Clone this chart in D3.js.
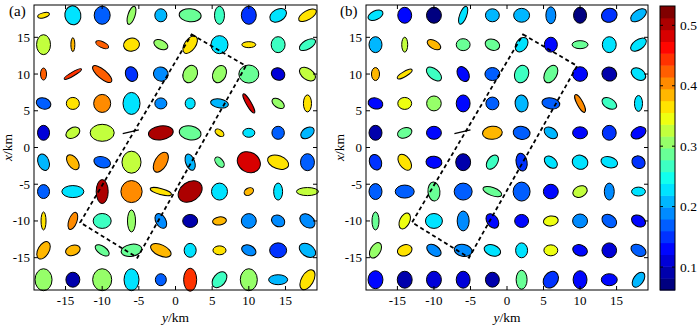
<!DOCTYPE html>
<html><head><meta charset="utf-8">
<script src="https://cdn.jsdelivr.net/npm/d3@7"></script>
<style>body{margin:0;background:#fff} svg text{font-family:"Liberation Serif","Times New Roman",serif;fill:#000}</style>
</head><body><svg id="c" width="700" height="325" font-family="Liberation Serif, Times New Roman, serif"></svg>
<script>
// grid (km): rows = x (north), columns = y (east)
const rowsX = [18,14,10,6,2,-2,-6,-10,-14,-18];
const colsY = [-18,-14,-10,-6,-2,2,6,10,14,18];
const tickVals = [-15,-10,-5,0,5,10,15];
const cbTicks = [0.1,0.2,0.3,0.4,0.5];
const cbDomain = [0.062, 0.532];
const nLevels = 24;
const faultOutline = [[2.2,15.4],[9.6,11.1],[-5.2,-15.0],[-13.0,-10.2]]; // [y, x] km
const epicLine = [[-7.2,1.9],[-5.0,2.4]];

// panel (a)
const valA = [
[0.36,0.235,0.16,0.30,0.215,0.28,0.27,0.155,0.235,0.36],
[0.33,0.38,0.42,0.36,0.30,0.36,0.235,0.36,0.265,0.265],
[0.42,0.45,0.43,0.155,0.185,0.30,0.30,0.28,0.12,0.33],
[0.175,0.36,0.40,0.235,0.19,0.235,0.215,0.475,0.30,0.36],
[0.12,0.33,0.33,null,0.51,0.28,0.36,0.235,0.16,0.215],
[0.215,0.38,0.16,0.33,0.41,0.215,0.28,0.475,0.36,0.16],
[0.175,0.235,0.505,0.40,0.36,0.51,0.22,0.38,0.235,0.33],
[0.36,0.40,0.265,0.30,0.18,0.095,0.38,0.18,0.195,0.18],
[0.38,0.38,0.28,0.28,0.38,0.235,0.36,0.18,0.155,0.215],
[0.30,0.10,0.30,0.235,0.16,0.44,0.265,0.30,0.215,0.36]];
const majA = [
[0.82,1.30,1.23,1.30,0.89,1.50,1.23,1.23,1.23,1.36],
[1.36,0.95,0.95,1.09,1.02,1.36,1.23,0.95,1.09,1.23],
[0.82,1.36,1.64,1.02,1.02,1.23,1.23,1.36,0.95,1.23],
[1.02,0.89,1.23,1.50,0.82,0.75,1.23,1.50,0.95,1.16],
[1.02,1.02,1.64,0,1.70,1.50,0.68,0.82,0.89,1.02],
[1.16,1.16,1.16,1.50,1.50,1.16,0.82,1.64,1.50,1.16],
[0.95,1.50,1.64,1.50,1.50,1.77,1.16,0.68,1.16,1.50],
[1.23,1.23,1.23,1.50,1.09,1.02,0.95,1.02,0.95,1.16],
[1.30,1.02,1.09,1.43,1.50,0.95,0.89,1.02,1.16,1.23],
[1.50,1.02,1.50,1.50,0.82,1.57,1.23,1.50,1.30,1.50]];
const minA = [
[0.34,1.09,1.09,0.48,0.82,0.89,0.68,1.02,0.82,0.61],
[0.95,0.27,0.41,0.89,0.61,0.75,1.16,0.41,0.95,0.61],
[0.41,0.27,0.61,0.82,0.95,0.95,0.89,1.23,0.82,0.75],
[0.75,0.82,1.16,1.16,0.75,0.68,0.61,0.34,0.55,0.55],
[0.82,0.68,1.16,0,0.95,0.95,0.41,0.61,0.85,0.68],
[0.75,0.68,0.75,1.30,0.82,0.61,0.48,1.36,0.89,0.95],
[0.82,0.82,0.82,1.45,0.41,1.30,1.09,0.48,0.61,0.55],
[0.34,0.55,1.02,0.55,0.68,0.89,0.55,1.00,0.75,0.82],
[0.75,0.68,0.55,0.82,0.75,0.82,0.61,0.68,1.02,0.82],
[1.16,0.95,1.30,1.02,0.75,0.89,0.82,1.16,0.68,0.82]];
const angA = [
[15,100,90,72,90,-5,90,90,30,30],
[90,90,-25,10,-25,55,90,0,90,30],
[90,30,-40,110,-30,65,65,0,-30,-35],
[-20,0,90,90,0,90,-10,-60,-35,90],
[90,30,0,0,8,-10,-35,0,90,35],
[110,-55,-15,90,60,110,-50,-30,-20,90],
[90,0,90,90,-15,35,90,30,90,0],
[90,70,0,90,120,0,8,0,-30,-40],
[60,20,-35,10,-25,90,0,-25,0,-35],
[90,90,90,90,90,90,50,90,0,60]];

// panel (b)
const valB = [
[0.225,0.14,0.08,0.225,0.215,0.21,0.195,0.08,0.15,0.21],
[0.215,0.33,0.38,0.29,0.28,0.235,0.14,0.285,0.235,0.225],
[0.38,0.36,0.265,0.14,0.165,0.265,0.29,0.14,0.085,0.235],
[0.14,0.34,0.31,0.14,0.17,0.215,0.17,0.40,0.265,0.235],
[0.085,0.28,0.125,null,0.38,0.165,0.215,0.14,0.15,0.14],
[0.15,0.36,0.13,0.10,0.27,0.145,0.235,0.235,0.235,0.145],
[0.17,0.17,0.29,0.165,0.28,0.165,0.14,0.335,0.19,0.235],
[0.29,0.34,0.225,0.19,0.14,0.14,0.34,0.19,0.165,0.125],
[0.30,0.37,0.195,0.19,0.235,0.235,0.34,0.14,0.11,0.165],
[0.125,0.10,0.12,0.115,0.095,0.29,0.145,0.14,0.14,0.21]];
const majB = [
[1.09,1.09,1.09,1.30,0.95,1.09,1.16,1.09,1.09,1.23],
[1.09,1.02,1.02,0.95,1.02,1.09,1.02,1.09,1.09,1.23],
[0.89,1.16,1.23,1.09,1.02,1.23,1.30,1.02,1.02,1.09],
[1.02,0.95,1.02,1.16,0.89,1.16,1.23,1.36,1.09,1.09],
[1.02,1.02,1.02,0,1.36,1.16,1.02,1.02,1.02,1.09],
[1.09,1.23,1.09,1.16,1.09,1.23,1.02,1.09,1.16,0.95],
[1.09,1.30,1.30,1.23,1.36,1.30,1.02,1.02,1.16,0.95],
[1.23,1.16,1.16,1.36,1.09,0.95,1.02,1.02,1.09,1.02],
[1.16,1.02,1.09,1.23,1.16,1.02,0.95,1.02,1.02,1.09],
[1.23,1.16,1.16,1.16,1.02,1.30,1.23,1.23,1.09,1.16]];
const minB = [
[0.61,0.95,1.02,0.48,0.89,0.95,0.68,0.89,0.95,0.68],
[0.89,0.41,0.55,0.82,0.75,0.75,0.89,0.55,0.95,0.68],
[0.55,0.34,0.68,0.75,0.89,0.95,0.82,1.00,0.95,0.75],
[0.75,0.82,1.00,0.95,0.87,0.89,0.75,0.41,0.68,0.55],
[0.89,0.68,0.89,0,0.89,0.89,0.68,0.82,0.95,0.75],
[0.82,0.75,0.82,1.02,0.68,0.75,0.68,0.95,0.75,0.82],
[0.89,0.89,0.82,1.16,0.55,1.16,1.00,0.75,0.68,0.61],
[0.48,0.68,1.02,0.82,0.75,0.89,0.68,0.95,0.82,0.75],
[0.68,0.75,0.68,0.82,0.75,0.82,0.75,0.75,1.00,0.75],
[1.02,1.02,1.02,0.95,0.95,0.75,0.95,0.95,0.82,0.68]];
const angB = [
[25,90,90,70,0,0,90,90,20,35],
[90,90,-30,0,-20,55,90,0,90,35],
[90,30,-40,-60,0,70,60,0,-20,-35],
[-15,0,90,90,0,95,-10,-62,-30,90],
[90,20,0,0,5,-10,-35,0,90,30],
[110,-55,-5,90,55,100,-40,-20,-15,-35],
[90,0,95,0,-20,90,0,25,90,0],
[90,65,0,90,-55,0,10,0,-35,-30],
[60,20,-35,-10,-20,90,0,-20,90,-30],
[90,90,90,90,90,90,55,90,0,55]];

const svg = d3.select("#c");
const clamp = v => Math.max(0, Math.min(1, v));
function jet(t){
  const r = clamp(Math.min(4*t-1.5, -4*t+4.5));
  const g = clamp(Math.min(4*t-0.5, -4*t+3.5));
  const b = clamp(Math.min(4*t+0.5, -4*t+2.5));
  return d3.rgb(r*255, g*255, b*255).formatHex();
}
const levelColors = d3.range(nLevels).map(i => jet(i/(nLevels-1)));
const color = d3.scaleQuantize().domain(cbDomain).range(levelColors);

const dom = [-19.3, 19.3];
const domV = [-19.4, 19.4];
const panels = [
  {left:34, right:317, top:5, bottom:290, label:"(a)", val:valA, maj:majA, min:minA, ang:angA, lx:9},
  {left:366, right:648, top:5, bottom:290, label:"(b)", val:valB, maj:majB, min:minB, ang:angB, lx:340}
];

panels.forEach(p => {
  const xs = d3.scaleLinear().domain(dom).range([p.left, p.right]);
  const ys = d3.scaleLinear().domain(domV).range([p.bottom, p.top]);
  const k = xs(1) - xs(0);
  const g = svg.append("g");
  const cells = [];
  rowsX.forEach((xv, i) => colsY.forEach((yv, j) => {
    if (p.val[i][j] == null) return;
    cells.push({x:xv, y:yv, v:p.val[i][j], a:p.maj[i][j], b:p.min[i][j], t:p.ang[i][j]});
  }));
  g.selectAll("ellipse").data(cells).join("ellipse")
    .attr("cx", 0).attr("cy", 0)
    .attr("rx", d => d.a*k).attr("ry", d => d.b*k)
    .attr("transform", d => `translate(${xs(d.y)},${ys(d.x)}) rotate(${-d.t})`)
    .attr("fill", d => color(d.v))
    .attr("stroke", "#000").attr("stroke-width", 1);

  // fault outline
  const line = d3.line().x(d => xs(d[0])).y(d => ys(d[1]));
  g.append("path").attr("d", line(faultOutline) + "Z")
    .attr("fill", "none").attr("stroke", "#000").attr("stroke-width", 1.8)
    .attr("stroke-dasharray", "4,3");
  g.append("path").attr("d", line(epicLine))
    .attr("fill", "none").attr("stroke", "#000").attr("stroke-width", 1.3);

  // frame
  g.append("rect").attr("x", p.left).attr("y", p.top)
    .attr("width", p.right - p.left).attr("height", p.bottom - p.top)
    .attr("fill", "none").attr("stroke", "#000").attr("stroke-width", 1);

  // ticks (inside, all sides)
  const tl = 4;
  tickVals.forEach(t => {
    g.append("line").attr("x1", xs(t)).attr("x2", xs(t)).attr("y1", p.bottom).attr("y2", p.bottom - tl).attr("stroke", "#000");
    g.append("line").attr("x1", xs(t)).attr("x2", xs(t)).attr("y1", p.top).attr("y2", p.top + tl).attr("stroke", "#000");
    g.append("line").attr("y1", ys(t)).attr("y2", ys(t)).attr("x1", p.left).attr("x2", p.left + tl).attr("stroke", "#000");
    g.append("line").attr("y1", ys(t)).attr("y2", ys(t)).attr("x1", p.right).attr("x2", p.right - tl).attr("stroke", "#000");
    g.append("text").attr("x", xs(t)).attr("y", p.bottom + 15).attr("text-anchor", "middle")
      .attr("font-size", 13).text(t);
    g.append("text").attr("x", p.left - 4).attr("y", ys(t) + 4.5).attr("text-anchor", "end")
      .attr("font-size", 13).text(t);
  });

  // axis titles
  const yt = g.append("text").attr("x", (p.left + p.right)/2).attr("y", 321.5)
    .attr("text-anchor", "middle").attr("font-size", 13.5);
  yt.append("tspan").attr("font-style", "italic").text("y");
  yt.append("tspan").text("/km");
  const xt = g.append("text").attr("transform", `translate(${p.left - 22},${(p.top + p.bottom)/2}) rotate(-90)`)
    .attr("text-anchor", "middle").attr("font-size", 13.5);
  xt.append("tspan").attr("font-style", "italic").text("x");
  xt.append("tspan").text("/km");

  g.append("text").attr("x", p.lx).attr("y", 16).attr("font-size", 15).text(p.label);
});

// colorbar
const cb = {left:660, right:675, top:6, bottom:290};
const cs = d3.scaleLinear().domain(cbDomain).range([cb.bottom, cb.top]);
const step = (cbDomain[1] - cbDomain[0]) / nLevels;
const cg = svg.append("g");
cg.selectAll("rect.lv").data(levelColors).join("rect").attr("class", "lv")
  .attr("x", cb.left).attr("width", cb.right - cb.left)
  .attr("y", (d, i) => cs(cbDomain[0] + (i+1)*step))
  .attr("height", (d, i) => cs(cbDomain[0] + i*step) - cs(cbDomain[0] + (i+1)*step) + 0.5)
  .attr("fill", d => d);
cg.append("rect").attr("x", cb.left).attr("y", cb.top).attr("width", cb.right - cb.left)
  .attr("height", cb.bottom - cb.top).attr("fill", "none").attr("stroke", "#000");
cbTicks.forEach(t => {
  cg.append("line").attr("x1", cb.right).attr("x2", cb.right - 3).attr("y1", cs(t)).attr("y2", cs(t)).attr("stroke", "#000");
  cg.append("line").attr("x1", cb.left).attr("x2", cb.left + 3).attr("y1", cs(t)).attr("y2", cs(t)).attr("stroke", "#000");
  cg.append("text").attr("x", cb.right + 5).attr("y", cs(t) + 4.5).attr("font-size", 13.5).text(t.toFixed(1));
});
</script></body></html>
